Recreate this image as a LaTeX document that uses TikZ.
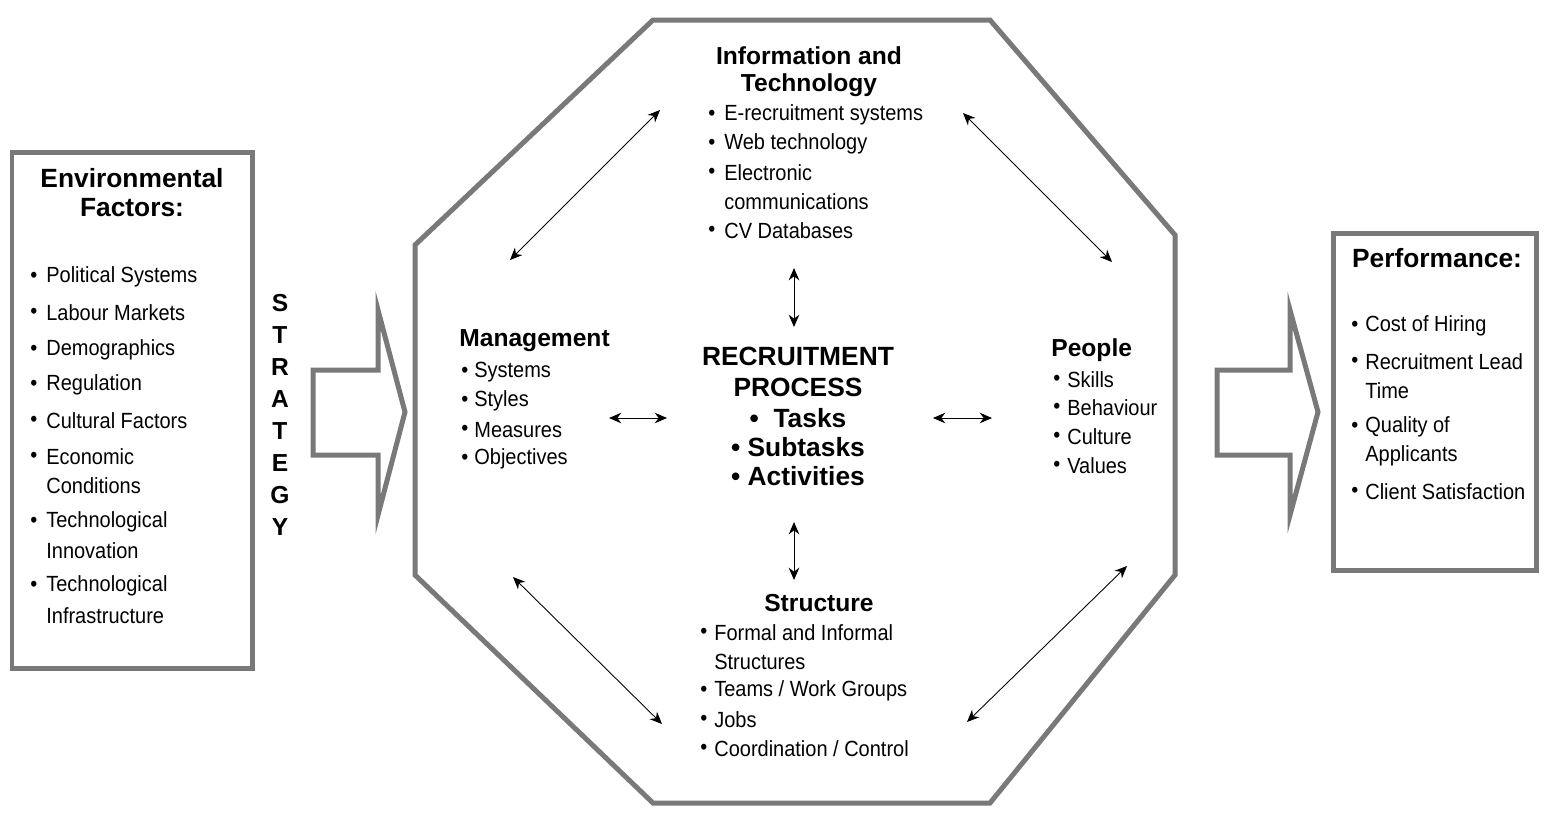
\documentclass[tikz,border=0pt]{standalone}
\usepackage{fontspec}
\setmainfont{Liberation Sans}[FakeStretch=0.91]
\newfontfamily\hfont{Liberation Sans}
\usetikzlibrary{arrows.meta}
\tikzset{
  frame/.style={draw=gray!95!black, line width=0.1cm, line join=miter},
  link/.style={{Stealth[length=7pt,width=6pt]}-{Stealth[length=7pt,width=6pt]}, line width=0.5pt},
  txt/.style={anchor=west, inner sep=0pt, font=\fontsize{12.5}{14}\selectfont},
  hd/.style={inner sep=0pt, font=\hfont\bfseries\fontsize{14}{16}\selectfont},
  bhd/.style={inner sep=0pt, font=\hfont\bfseries\fontsize{15}{17}\selectfont},
}
\newcommand{\tl}[4]{\node[txt] (#1) at (#2,#3) {#4};}
\newcommand{\bl}[5]{\node[txt] (#1b) at (#2,#4) {\textbullet}; \node[txt] (#1) at (#3,#4) {#5};}
\begin{document}
\begin{tikzpicture}[x=0.02cm,y=-0.02cm]
\useasboundingbox (0,0) rectangle (1546,826);
% frames
\draw[frame] (653,20) -- (990,20) -- (1175,235) -- (1175,575) -- (990,803) -- (653,803) -- (415,575) -- (415,245) -- cycle;
\draw[frame] (12,152) rectangle (252,668);
\draw[frame] (1333,233) rectangle (1536,570);
\draw[frame] (313,370) -- (378,370) -- (378,310) -- (405,412) -- (378,515) -- (378,455) -- (313,455) -- cycle;
\draw[frame] (1217,370) -- (1290,370) -- (1290,310) -- (1318,412) -- (1290,515) -- (1290,455) -- (1217,455) -- cycle;
% left box
\node[bhd] (env1) at (132,178) {Environmental};
\node[bhd] (env2) at (132,208) {Factors:};
\bl{e1}{30}{46}{277}{Political Systems}
\bl{e2}{30}{46}{313}{Labour Markets}
\bl{e3}{30}{46}{350}{Demographics}
\bl{e4}{30}{46}{385}{Regulation}
\bl{e5}{30}{46}{421}{Cultural Factors}
\bl{e6}{30}{46}{457}{Economic}
\tl{e6c}{46}{486}{Conditions}
\bl{e7}{30}{46}{522}{Technological}
\tl{e7c}{46}{551}{Innovation}
\bl{e8}{30}{46}{586}{Technological}
\tl{e8c}{46}{616}{Infrastructure}
% strategy
\foreach \L [count=\i] in {S,T,R,A,T,E,G,Y}
  \node[hd] (st\i) at (280,{303+32*(\i-1)}) {\L};
% performance
\node[bhd] (perf) at (1437,258) {Performance:};
\bl{p1}{1351}{1365}{326}{Cost of Hiring}
\bl{p2}{1351}{1365}{362}{Recruitment Lead}
\tl{p2c}{1365}{391}{Time}
\bl{p3}{1351}{1365}{427}{Quality of}
\tl{p3c}{1365}{456}{Applicants}
\bl{p4}{1351}{1365}{492}{Client Satisfaction}
% IT
\node[hd] (it1) at (809,56) {Information and};
\node[hd] (it2) at (809,85) {Technology};
\bl{i1}{708}{724}{115}{E-recruitment systems}
\bl{i2}{708}{724}{144}{Web technology}
\bl{i3}{708}{724}{173}{Electronic}
\tl{i3c}{724}{202}{communications}
\bl{i4}{708}{724}{231}{CV Databases}
% management
\node[hd,anchor=west] (mg) at (459,341) {Management};
\bl{m1}{461}{474}{372}{Systems}
\bl{m2}{461}{474}{401}{Styles}
\bl{m3}{461}{474}{430}{Measures}
\bl{m4}{461}{474}{459}{Objectives}
% people
\node[hd,anchor=west] (pp) at (1051,350) {People};
\bl{q1}{1053}{1067}{380}{Skills}
\bl{q2}{1053}{1067}{408}{Behaviour}
\bl{q3}{1053}{1067}{437}{Culture}
\bl{q4}{1053}{1067}{466}{Values}
% structure
\node[hd] (sth) at (819,603) {Structure};
\bl{s1}{700}{714}{633}{Formal and Informal}
\tl{s1c}{714}{662}{Structures}
\bl{s2}{700}{714}{691}{Teams / Work Groups}
\bl{s3}{700}{714}{720}{Jobs}
\bl{s4}{700}{714}{749}{Coordination / Control}
% centre
\node[bhd] (rc1) at (798,356) {RECRUITMENT};
\node[bhd] (rc2) at (798,387) {PROCESS};
\node[bhd] (rc3) at (798,418) {\textbullet\ \ Tasks};
\node[bhd] (rc4) at (798,447) {\textbullet\ Subtasks};
\node[bhd] (rc5) at (798,476) {\textbullet\ Activities};
% connectors
\coordinate (a1) at (510,260); \coordinate (a2) at (660,110);
\coordinate (b1) at (963,113); \coordinate (b2) at (1112,262);
\coordinate (c1) at (513,577); \coordinate (c2) at (662,724);
\coordinate (d1) at (967,722); \coordinate (d2) at (1127,566);
\coordinate (e1x) at (794,268); \coordinate (e2x) at (794,327);
\coordinate (f1) at (794,522); \coordinate (f2) at (794,580);
\coordinate (g1) at (609,418); \coordinate (g2) at (667,418);
\coordinate (h1) at (933,418); \coordinate (h2) at (992,418);
\draw[link] (a1) -- (a2);
\draw[link] (b1) -- (b2);
\draw[link] (c1) -- (c2);
\draw[link] (d1) -- (d2);
\draw[link] (e1x) -- (e2x);
\draw[link] (f1) -- (f2);
\draw[link] (g1) -- (g2);
\draw[link] (h1) -- (h2);
\end{tikzpicture}
\end{document}
